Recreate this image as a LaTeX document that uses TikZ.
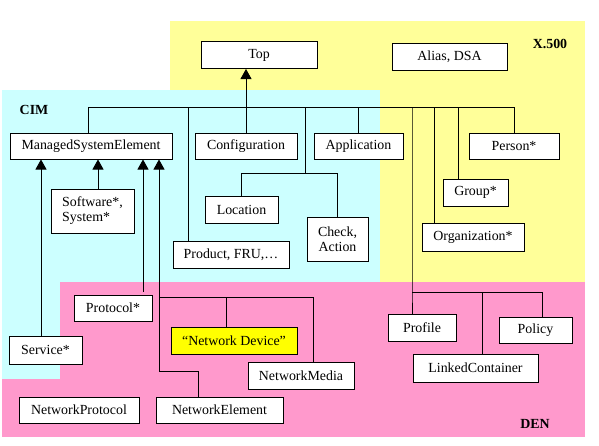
\documentclass[tikz,border=0pt]{standalone}
\usepackage{fontspec}
\setmainfont{Liberation Serif}
\usetikzlibrary{arrows.meta}
\definecolor{yel}{HTML}{FFFF99}
\definecolor{cyn}{HTML}{CCFFFF}
\definecolor{pnk}{HTML}{FF99CC}
\definecolor{devyel}{HTML}{FFFF00}
\begin{document}
\begin{tikzpicture}[x=1pt,y=-1pt,
  box/.style={draw, line width=1pt, fill=white, inner sep=0pt, font=\fontsize{13.9}{15}\selectfont},
  link/.style={line width=0.9pt},
  inh/.style={link, -{Triangle[length=10pt,width=11pt]}},
  region/.style={font=\bfseries\fontsize{13.9}{15}\selectfont}]
\useasboundingbox (0,0) rectangle (599,445);
% regions
\fill[yel] (170,21) rectangle (585,282);
\fill[cyn] (2,90) rectangle (380,282);
\fill[pnk] (2,282) rectangle (585,437);
\fill[cyn] (2,282) rectangle (60,379);
\node[region] (x500) at (550,44) {X.500};
\node[region] (cim) at (34,110) {CIM};
\node[region] (den) at (535,424) {DEN};
% nodes
\node[box, minimum width=116, minimum height=27] (top) at (259,55) {Top};
\node[box, minimum width=115, minimum height=27] (alias) at (449.5,56.5) {Alias, DSA};
\node[box, minimum width=162, minimum height=26] (mse) at (91,146) {ManagedSystemElement};
\node[box, minimum width=102, minimum height=26] (config) at (246,146) {Configuration};
\node[box, minimum width=89, minimum height=26] (app) at (358.5,146) {Application};
\node[box, minimum width=90, minimum height=26] (person) at (514,146) {Person*};
\node[box, minimum width=65, minimum height=27] (group) at (475.5,192.5) {Group*};
\node[box, minimum width=102, minimum height=28] (org) at (473,237) {Organization*};
\node[box, minimum width=73, minimum height=27] (location) at (241.5,209.5) {Location};
\node[box, minimum width=61, minimum height=44, align=center] (check) at (337.5,239) {Check,\\Action};
\node[box, minimum width=83, minimum height=44, align=left] (soft) at (92.5,211) {Software*,\\System*};
\node[box, minimum width=116, minimum height=27] (product) at (231,254.5) {Product, FRU,…};
\node[box, minimum width=78, minimum height=26] (protocol) at (113,308) {Protocol*};
\node[box, minimum width=73, minimum height=28] (service) at (45.5,350) {Service*};
\node[box, fill=devyel, minimum width=126, minimum height=27] (netdev) at (234,340.5) {“Network Device”};
\node[box, minimum width=106, minimum height=27] (netmedia) at (301,375.5) {NetworkMedia};
\node[box, minimum width=120, minimum height=26] (netproto) at (79,410) {NetworkProtocol};
\node[box, minimum width=127, minimum height=26] (netelem) at (219.5,410) {NetworkElement};
\node[box, minimum width=68, minimum height=27] (profile) at (422,327.5) {Profile};
\node[box, minimum width=73, minimum height=26] (policy) at (535.5,330) {Policy};
\node[box, minimum width=125, minimum height=28] (linked) at (475.5,368) {LinkedContainer};
% helper coordinates
\coordinate (bus) at (0,107);
\coordinate (xmse) at (88,0);
\coordinate (xprod) at (188,0);
\coordinate (lc) at (305,173);
\coordinate (d1) at (412,292);
\coordinate (d2) at (482,292);
\coordinate (d3) at (542,292);
\coordinate (xorg) at (434,0);
\coordinate (xgrp) at (458,0);
\coordinate (xsrv) at (41,0);
\coordinate (xsw) at (98,0);
\coordinate (xpr) at (143,0);
\coordinate (xne) at (159,0);
\coordinate (ne1) at (159,371);
\coordinate (ne2) at (198,371);
\coordinate (nd) at (159,297);
\coordinate (xnd) at (226,0);
\coordinate (xnm) at (313,0);
% X.500 tree
\draw[inh] (config.north) -- (config.north |- top.south);
\draw[link] (xmse |- mse.north) -- (xmse |- bus) -- (person.north |- bus) -- (person.north);
\draw[link] (xprod |- bus) -- (xprod |- product.north);
\draw[link] (lc |- bus) -- (lc);
\draw[link] (location.north) -- (location.north |- lc) -- (check.north |- lc) -- (check.north);
\draw[link] (app.north) -- (app.north |- bus);
\draw[link] (xorg |- bus) -- (xorg |- org.north);
\draw[link] (xgrp |- bus) -- (xgrp |- group.north);
\draw[link] (d1 |- bus) -- (d1) -- (d1 |- profile.north);
\draw[link] (d1) -- (d3) -- (d3 |- policy.north);
\draw[link] (d2) -- (d2 |- linked.north);
% CIM inheritance
\draw[inh] (xsrv |- service.north) -- (xsrv |- mse.south);
\draw[inh] (xsw |- soft.north) -- (xsw |- mse.south);
\draw[inh, shorten <=3pt] (xpr |- protocol.north) -- (xpr |- mse.south);
\draw[inh] (netelem.north -| ne2) -- (ne2) -- (ne1) -- (xne |- mse.south);
\draw[link] (nd) -- (xnm |- nd) -- (xnm |- netmedia.north);
\draw[link] (xnd |- nd) -- (xnd |- netdev.north);
\end{tikzpicture}
\end{document}
